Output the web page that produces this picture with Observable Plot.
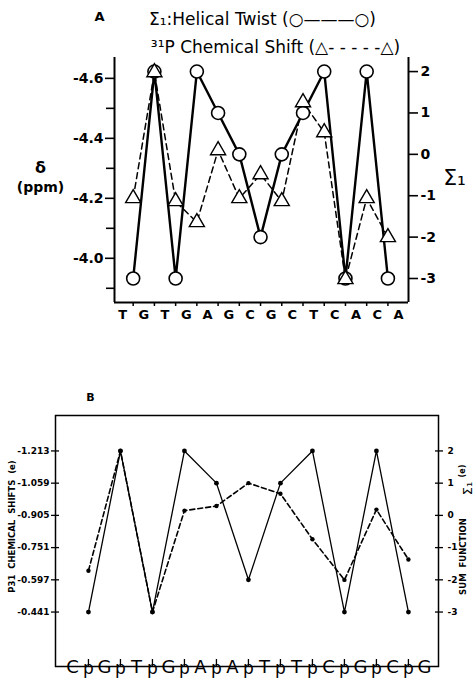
<!DOCTYPE html>
<html><head><meta charset="utf-8">
<script src="https://cdn.jsdelivr.net/npm/d3@7"></script>
<script src="https://cdn.jsdelivr.net/npm/@observablehq/plot@0.6"></script>
<style>body{margin:0;background:#fff;} #c{width:474px;} #c svg{display:block;}</style>
</head><body><div id="c"></div>
<script>
// ---- Panel A data ----
const basesA = ["T","G","T","G","A","G","C","G","C","T","C","A","C","A"];
const twistA = [-3, 2, -3, 2, 1, 0, -2, 0, 1, 2, -3, 2, -3];
const shiftA = [-4.20, -4.62, -4.19, -4.12, -4.36, -4.20, -4.28, -4.19, -4.52, -4.42, -3.93, -4.20, -4.07];
const shiftTicksA = [-4.6, -4.4, -4.2, -4.0];
const shiftMinorA = [-4.5, -4.3, -4.1, -3.9];
const twistTicksA = [2, 1, 0, -1, -2, -3];

// ---- Panel B data ----
const basesB = ["C","G","T","G","A","A","T","T","C","G","C","G"];
const twistB = [-3, 2, -3, 2, 1, -2, 1, 2, -3, 2, -3];
const shiftB = [-0.639, -1.213, -0.441, -0.927, -0.949, -1.059, -1.008, -0.790, -0.595, -0.932, -0.693];
const shiftTickLabelsB = ["-1.213","-1.059","-0.905","-0.751","-0.597","-0.441"];
const twistTicksB = [2, 1, 0, -1, -2, -3];

const font = "'DejaVu Sans', sans-serif";
const fmtSigned = d => (d < 0 ? "-" + Math.abs(d) : String(d));

// ---------- Panel A ----------
const toSigA = d3.scaleLinear().domain([-4.0, -4.6]).range([-2.512, 1.836]);
const ptsA = twistA.map((t, i) => ({x: i + 0.5, t, s: toSigA(shiftA[i])}));
const xDomA = [-0.38, 13.47], yDomA = [-3.58, 2.34];

const plotA = Plot.plot({
  width: 474, height: 340,
  marginLeft: 114, marginRight: 66, marginTop: 57, marginBottom: 38,
  style: {fontFamily: font, background: "white", color: "black", overflow: "visible"},
  x: {domain: xDomA}, y: {domain: yDomA},
  marks: [
    Plot.ruleX([xDomA[0]], {strokeWidth: 2}),
    Plot.ruleX([xDomA[1]], {strokeWidth: 2}),
    Plot.ruleY([yDomA[0]], {strokeWidth: 2}),
    Plot.axisY({anchor: "left", ticks: shiftTicksA.map(toSigA),
      tickFormat: v => toSigA.invert(v).toFixed(1), tickSize: 9, tickPadding: 2,
      fontSize: 14, fontWeight: "bold", strokeWidth: 1.6, label: null}),
    Plot.axisY({anchor: "left", ticks: shiftMinorA.map(toSigA), tickFormat: () => "",
      tickSize: 8, strokeWidth: 1.6, label: null}),
    Plot.axisY({anchor: "right", ticks: twistTicksA, tickFormat: fmtSigned, tickSize: 9,
      tickPadding: 3, fontSize: 14, fontWeight: "bold", strokeWidth: 1.6, label: null}),
    Plot.axisX({ticks: d3.range(0.5, 13, 1), tickFormat: () => "", tickSize: 4, strokeWidth: 1.5, label: null}),
    Plot.axisX({ticks: d3.range(0, 14), tickFormat: i => basesA[i], tickSize: 0, tickPadding: 7,
      fontSize: 13, fontWeight: "bold", label: null}),
    Plot.line(ptsA, {x: "x", y: "s", strokeDasharray: "6,4", strokeWidth: 1.5}),
    Plot.line(ptsA, {x: "x", y: "t", strokeWidth: 2.4}),
    Plot.dot(ptsA, {x: "x", y: "t", r: 6.5, fill: "white", stroke: "black", strokeWidth: 1.6}),
    Plot.dot(ptsA, {x: "x", y: "s", symbol: "triangle", r: 5.6, fill: "white", stroke: "black", strokeWidth: 1.4}),
    Plot.text(["A"], {frameAnchor: "top-left", dx: -15, dy: -46, fontSize: 13, fontWeight: "bold", textAnchor: "middle"}),
    Plot.text(["Σ₁:Helical Twist (○———○)"], {frameAnchor: "top", dx: 1, dy: -45, fontSize: 17, textAnchor: "middle"}),
    Plot.text(["³¹P Chemical Shift (△- - - - -△)"], {frameAnchor: "top", dx: 14, dy: -17, fontSize: 17, textAnchor: "middle"}),
    Plot.text(["δ"], {frameAnchor: "left", dx: -74, dy: -12, fontSize: 16, fontWeight: "bold", textAnchor: "middle"}),
    Plot.text(["(ppm)"], {frameAnchor: "left", dx: -74, dy: 8, fontSize: 14, fontWeight: "bold", textAnchor: "middle"}),
    Plot.text(["Σ₁"], {frameAnchor: "right", dx: 46, dy: -2, fontSize: 22, textAnchor: "middle"})
  ]
});

// ---------- Panel B ----------
const toSigB = d3.scaleLinear().domain([-0.441, -1.213]).range([-3, 2]);
const ptsB = twistB.map((t, i) => ({x: i, t, s: toSigB(shiftB[i])}));
const xDomB = [-1.03, 10.94], yDomB = [-4.69, 3.1];
const baseLabelsB = basesB.map((b, i) => ({x: i - 0.5, t: b}));
const pLabelsB = d3.range(0, 11).map(i => ({x: i, t: "p"}));

const plotB = Plot.plot({
  width: 474, height: 340,
  marginLeft: 55, marginRight: 36, marginTop: 75, marginBottom: 14,
  style: {fontFamily: font, background: "white", color: "black", overflow: "visible"},
  x: {domain: xDomB}, y: {domain: yDomB},
  marks: [
    Plot.frame({strokeWidth: 1.5}),
    Plot.axisY({anchor: "left", ticks: twistTicksB, tickFormat: (d, i) => shiftTickLabelsB[i],
      tickSize: 4, tickPadding: 2, fontSize: 9, fontWeight: "bold", strokeWidth: 1.3, label: null}),
    Plot.axisY({anchor: "left", ticks: twistTicksB, tickFormat: () => "", tickSize: -4, strokeWidth: 1.3, label: null}),
    Plot.axisY({anchor: "right", ticks: twistTicksB, tickFormat: fmtSigned,
      tickSize: 4, tickPadding: 5, fontSize: 9, fontWeight: "bold", strokeWidth: 1.3, label: null}),
    Plot.axisY({anchor: "right", ticks: twistTicksB, tickFormat: () => "", tickSize: -4, strokeWidth: 1.3, label: null}),
    Plot.axisX({ticks: d3.range(0, 11), tickFormat: () => "", tickSize: -7, strokeWidth: 1.3, label: null}),
    Plot.line(ptsB, {x: "x", y: "s", strokeDasharray: "5,3", strokeWidth: 1.6}),
    Plot.line(ptsB, {x: "x", y: "t", strokeWidth: 1.3}),
    Plot.dot(ptsB, {x: "x", y: "s", r: 2.2, fill: "black"}),
    Plot.dot(ptsB, {x: "x", y: "t", r: 2.4, fill: "black"}),
    Plot.text(baseLabelsB, {x: "x", text: "t", frameAnchor: "bottom", dy: 6, fontSize: 18}),
    Plot.text(pLabelsB, {x: "x", text: "t", frameAnchor: "bottom", dy: 7, fontSize: 17}),
    Plot.text(["B"], {frameAnchor: "top-left", dx: 35, dy: -22, fontSize: 11, fontWeight: "bold", textAnchor: "middle"}),
    Plot.text(["P31  CHEMICAL  SHIFTS  (e)"], {frameAnchor: "left", dx: -43, dy: -14.5, rotate: -90, fontSize: 8.5, fontWeight: "bold", textAnchor: "middle"}),
    Plot.text(["SUM  FUNCTION"], {frameAnchor: "right", dx: 25, dy: 15.5, rotate: -90, fontSize: 8.5, fontWeight: "bold", textAnchor: "middle"}),
    Plot.text(["Σ₁"], {frameAnchor: "right", dx: 29, dy: -52.5, rotate: -90, fontSize: 13, textAnchor: "middle"}),
    Plot.text(["(e)"], {frameAnchor: "right", dx: 24, dy: -70, rotate: -90, fontSize: 8, fontWeight: "bold", textAnchor: "middle"})
  ]
});

const c = document.getElementById("c");
c.appendChild(plotA);
c.appendChild(plotB);
</script>
</body></html>
